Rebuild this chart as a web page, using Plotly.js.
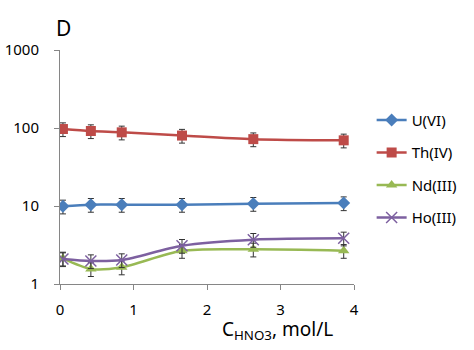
<!DOCTYPE html>
<html>
<head>
<meta charset="utf-8">
<script src="https://cdn.plot.ly/plotly-3.0.1.min.js"></script>
<style>html,body{margin:0;padding:0;background:#fff;}#chart{width:474px;height:350px;}</style>
</head>
<body>
<div id="chart"></div>
<script>
const concentrations = [0.04, 0.42, 0.84, 1.66, 2.63, 3.86];
const seriesNames = ["U(VI)", "Th(IV)", "Nd(III)", "Ho(III)"];
const uValues  = [9.9, 10.4, 10.4, 10.4, 10.7, 10.9];
const thValues = [97, 91.5, 88, 80, 72, 69.5];
const ndValues = [2.13, 1.56, 1.64, 2.67, 2.78, 2.67];
const hoValues = [2.09, 1.97, 2.03, 3.1, 3.7, 3.85];
const errorPercent = 20;
const xTickLabels = ["0", "1", "2", "3", "4"];
const yTickLabels = ["1", "10", "100", "1000"];

const colors = ["#4A7EBB", "#BE4B48", "#98B954", "#7D60A0"];
const symbols = ["diamond", "square", "triangle-up", "x-thin-open"];
const sizes = [10, 10, 10, 11];
const allValues = [uValues, thValues, ndValues, hoValues];

const font = "Noto Sans, Open Sans, DejaVu Sans, sans-serif";

const traces = allValues.map((vals, i) => ({
  x: concentrations,
  y: vals,
  name: seriesNames[i],
  legendgroup: "g" + i,
  type: "scatter",
  mode: "lines+markers",
  line: {color: colors[i], width: 2.5, shape: "spline", smoothing: 0.8},
  marker: {
    symbol: symbols[i], size: sizes[i], color: colors[i],
    line: {color: colors[i], width: i === 3 ? 1.5 : 0}
  },
  error_y: {type: "percent", value: errorPercent, color: "#333", thickness: 1, width: 3}
}));

const layout = {
  width: 474, height: 350,
  margin: {l: 60, r: 110, t: 50, b: 66},
  paper_bgcolor: "#fff", plot_bgcolor: "#fff",
  font: {family: font, size: 15, color: "#000"},
  showlegend: true,
  legend: {
    x: 1.06, xanchor: "left", y: 0.77, yanchor: "top",
    traceorder: "grouped", tracegroupgap: 10,
    font: {family: font, size: 15, color: "#000"},
    bgcolor: "rgba(0,0,0,0)"
  },
  xaxis: {
    range: [0, 4], tickmode: "array", tickvals: [0, 1, 2, 3, 4], ticktext: xTickLabels,
    showgrid: false, zeroline: false, showline: true, linecolor: "#868686", linewidth: 1,
    ticks: "outside", ticklen: 5, tickcolor: "#868686", ticklabelstandoff: 7,
    tickfont: {family: font, size: 15}
  },
  yaxis: {
    type: "log", range: [0, 3], tickmode: "array", tickvals: [1, 10, 100, 1000], ticktext: yTickLabels,
    showgrid: false, zeroline: false, showline: true, linecolor: "#868686", linewidth: 1,
    ticks: "outside", ticklen: 5, tickcolor: "#868686", ticklabelstandoff: 12,
    tickfont: {family: font, size: 15}
  },
  annotations: [
    {text: "D", xref: "paper", yref: "paper", x: 0.013, y: 1.096, xanchor: "center", yanchor: "middle",
     showarrow: false, font: {family: font, size: 21, color: "#000"}},
    {text: "C<sub>HNO3</sub>, mol/L", xref: "paper", yref: "paper", x: 0.74, y: -0.195, xanchor: "center", yanchor: "middle",
     showarrow: false, font: {family: font, size: 19, color: "#000"}}
  ]
};

Plotly.newPlot("chart", traces, layout, {displayModeBar: false, staticPlot: true});
</script>
</body>
</html>
